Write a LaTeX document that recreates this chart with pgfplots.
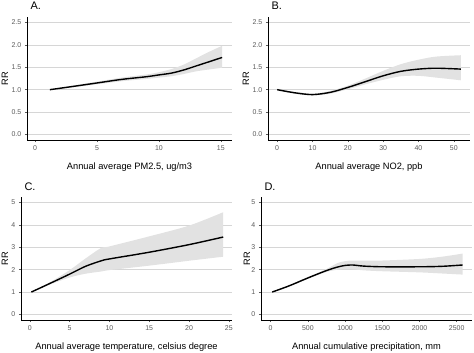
\documentclass[border=0pt]{standalone}
\usepackage{pgfplots}
\pgfplotsset{compat=1.18}
\usepackage{pgfplotstable}
\usepgfplotslibrary{fillbetween}
\usepackage{fontspec}
\setmainfont{Liberation Sans}
\definecolor{tickgray}{HTML}{5A5A5A}
\definecolor{gridgray}{HTML}{D6D6D6}
\definecolor{bandgray}{HTML}{E2E2E2}

\pgfplotstableread{
x y lo hi
1.2 1.00 0.99 1.01
3 1.07 1.05 1.09
5 1.15 1.12 1.18
7 1.23 1.19 1.27
9 1.29 1.24 1.34
10 1.33 1.27 1.39
11 1.37 1.30 1.46
12 1.44 1.35 1.56
13 1.53 1.41 1.70
14 1.62 1.45 1.84
15.1 1.72 1.49 1.98
}\tA

\pgfplotstableread{
x y lo hi
0 1.00 0.98 1.02
5 0.93 0.91 0.95
10 0.89 0.87 0.91
15 0.94 0.91 0.97
20 1.05 1.01 1.09
25 1.18 1.12 1.25
30 1.31 1.22 1.42
35 1.41 1.30 1.57
40 1.46 1.31 1.67
45 1.48 1.27 1.74
52 1.46 1.21 1.77
}\tB

\pgfplotstableread{
x y lo hi
0.2 1.00 0.98 1.02
2.5 1.38 1.33 1.43
5 1.80 1.65 1.98
7 2.15 1.82 2.50
9 2.40 1.92 2.98
10 2.48 1.98 3.04
15 2.78 2.18 3.49
20 3.12 2.40 3.97
24.3 3.46 2.58 4.57
}\tC

\pgfplotstableread{
x y lo hi
20 1.00 0.98 1.02
250 1.28 1.25 1.31
500 1.63 1.59 1.67
750 1.96 1.90 2.03
900 2.12 2.00 2.30
1000 2.19 2.03 2.38
1100 2.21 2.02 2.41
1250 2.16 1.97 2.40
1500 2.13 1.93 2.41
2000 2.13 1.88 2.48
2300 2.15 1.83 2.58
2580 2.21 1.78 2.72
}\tD

\pgfplotsset{
  every axis title shift=0pt,
  panel/.style={
    scale only axis,
    anchor=south west,
    height=123bp,
    axis x line*=bottom,
    axis y line*=left,
    axis line style={black, line width=0.7bp},
    tick style={tickgray, line width=0.5bp},
    major tick length=2.2bp,
    tick align=outside,
    ymajorgrids,
    grid style={gridgray, line width=0.6bp},
    ticklabel style={font=\fontsize{7}{8}\selectfont, color=tickgray},
    /pgf/number format/assume math mode=true,
    /pgf/number format/1000 sep={},
    xlabel style={at={(axis description cs:0.5,0)}, anchor=center, yshift=-27bp, font=\fontsize{9.3}{11}\selectfont},
    ylabel style={at={(axis description cs:0,0.5)}, anchor=center, font=\fontsize{9.3}{11}\selectfont},
    title style={at={(axis description cs:0,1)}, anchor=base west, yshift=7bp, font=\fontsize{11}{13}\selectfont},
    ylabel={RR},
  },
  rrAB/.style={ymin=-0.125, ymax=2.625, ytick={0,0.5,...,2.5},
    yticklabel style={/pgf/number format/.cd, fixed, fixed zerofill, precision=1}},
  rrCD/.style={ymin=-0.25, ymax=5.25, ytick={0,1,2,3,4,5}},
}

\newcommand{\bandplot}[1]{%
  \addplot[name path=U, draw=none, smooth] table[x=x,y=hi]{#1};
  \addplot[name path=L, draw=none, smooth] table[x=x,y=lo]{#1};
  \addplot[bandgray] fill between[of=U and L];
  \addplot[black, line width=1.4bp, smooth] table[x=x,y=y]{#1};
}

\begin{document}
\begin{tikzpicture}

\begin{axis}[panel, rrAB, at={(27bp,213bp)}, width=205bp,
  xmin=-0.65, xmax=15.9, xtick={0,5,10,15},
  title={A.}, xlabel={Annual average PM2.5, ug/m3},
  ylabel style={yshift=22bp}]
\bandplot{\tA}
\end{axis}

\begin{axis}[panel, rrAB, at={(268bp,213bp)}, width=202bp,
  xmin=-2.6, xmax=54.6, xtick={0,10,20,30,40,50},
  title={B.}, xlabel={Annual average NO2, ppb},
  ylabel style={yshift=22bp}]
\bandplot{\tB}
\end{axis}

\begin{axis}[panel, rrCD, at={(21bp,33bp)}, width=211bp,
  xmin=-1.1, xmax=25.4, xtick={0,5,10,15,20,25},
  title={C.}, xlabel={Annual average temperature, celsius degree},
  ylabel style={yshift=16bp}]
\bandplot{\tC}
\end{axis}

\begin{axis}[panel, rrCD, at={(261bp,33bp)}, width=211bp,
  xmin=-130, xmax=2705, xtick={0,500,1000,1500,2000,2500},
  title={D.}, xlabel={Annual cumulative precipitation, mm},
  ylabel style={yshift=14bp}]
\bandplot{\tD}
\end{axis}

\pgfresetboundingbox
\path[use as bounding box] (0,0) rectangle (474bp,353bp);
\end{tikzpicture}
\end{document}
